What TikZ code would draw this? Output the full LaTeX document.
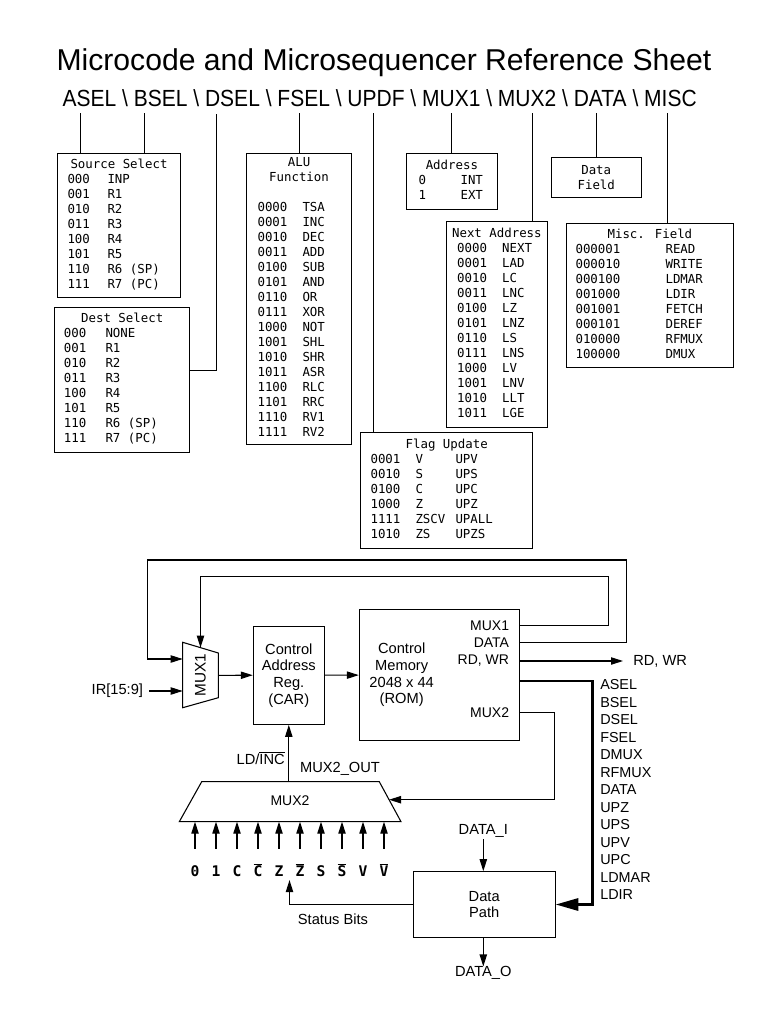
\documentclass[tikz,border=0pt]{standalone}
\usepackage{fontspec}
\setmainfont{Liberation Sans}
\newfontfamily\monofont{DejaVu Sans Mono}
\newfontfamily\hdrfont[FakeStretch=0.9]{Liberation Sans}
\usetikzlibrary{arrows.meta,calc,positioning}
\newdimen\upx \upx=0.75pt
\newcommand{\tabhead}[2]{\multicolumn{#1}{@{}c@{}}{\makebox[0pt]{#2}}}
\newcommand{\ovl}[1]{$\overline{\hbox{#1}}$}

\begin{document}
\begin{tikzpicture}[
  x=0.75pt, y=-0.75pt,
  every node/.style={font=\fontsize{11}{12.5}\selectfont},
  sz/.style 2 args={minimum width=#1*0.75pt, minimum height=#2*0.75pt},
  tbl/.style={draw, line width=0.8pt, anchor=north west, inner sep=0pt, font=\monofont\fontsize{9.3}{11.25}\selectfont},
  blk/.style={draw, line width=0.8pt, inner sep=0pt, align=center},
  lbl/.style={inner sep=0pt},
  wire/.style={line width=0.8pt},
  arrow/.style={-{Triangle[length=9pt,width=5.5pt]}, line width=0.8pt},
  bus/.style={-{Triangle[length=17pt,width=9pt]}, line width=2.2pt},
  bit/.style={inner sep=0pt, anchor=base, text height=10.5pt, text depth=0pt, font=\monofont\bfseries\fontsize{11}{12}\selectfont}
]
\useasboundingbox (0,0) rectangle (768,1024);

% title and field header
\node[lbl, anchor=base, font=\fontsize{22.6}{26}\selectfont] (title) at (384,70) {Microcode and Microsequencer Reference Sheet};
\node[lbl, anchor=base, font=\hdrfont\fontsize{17.5}{20}\selectfont] (hdr) at (379.7,106.7)
  {ASEL \textbackslash{} BSEL \textbackslash{} DSEL \textbackslash{} FSEL \textbackslash{} UPDF \textbackslash{} MUX1 \textbackslash{} MUX2 \textbackslash{} DATA \textbackslash{} MISC};

% field tables
\node[tbl, sz={123}{144}] (src) at (57,152.7) {\begin{tabular}{@{}p{40\upx}@{}p{63\upx}@{}}
\tabhead{2}{Source Select}\\
000 & INP\\ 001 & R1\\ 010 & R2\\ 011 & R3\\ 100 & R4\\ 101 & R5\\ 110 & R6 (SP)\\ 111 & R7 (PC)
\end{tabular}};
\node[tbl, sz={135.3}{145}] (dst) at (54,306.7) {\begin{tabular}{@{}p{41.7\upx}@{}p{75\upx}@{}}
\tabhead{2}{Dest Select}\\
000 & NONE\\ 001 & R1\\ 010 & R2\\ 011 & R3\\ 100 & R4\\ 101 & R5\\ 110 & R6 (SP)\\ 111 & R7 (PC)
\end{tabular}};
\node[tbl, sz={105}{291}] (alu) at (246,152.7) {\begin{tabular}{@{}p{45\upx}@{}p{38\upx}@{}}
\tabhead{2}{ALU}\\ \tabhead{2}{Function}\\ & \\
0000 & TSA\\ 0001 & INC\\ 0010 & DEC\\ 0011 & ADD\\ 0100 & SUB\\ 0101 & AND\\ 0110 & OR\\ 0111 & XOR\\
1000 & NOT\\ 1001 & SHL\\ 1010 & SHR\\ 1011 & ASR\\ 1100 & RLC\\ 1101 & RRC\\ 1110 & RV1\\ 1111 & RV2
\end{tabular}};
\node[tbl, sz={90.7}{56}] (adr) at (406,153.3) {\begin{tabular}{@{}p{42\upx}@{}p{24.7\upx}@{}}
\tabhead{2}{Address}\\ 0 & INT\\ 1 & EXT
\end{tabular}};
\node[tbl, sz={100.7}{205.7}] (nxt) at (446,221) {\begin{tabular}{@{}p{45\upx}@{}p{34.3\upx}@{}}
\tabhead{2}{Next Address}\\
0000 & NEXT\\ 0001 & LAD\\ 0010 & LC\\ 0011 & LNC\\ 0100 & LZ\\ 0101 & LNZ\\
0110 & LS\\ 0111 & LNS\\ 1000 & LV\\ 1001 & LNV\\ 1010 & LLT\\ 1011 & LGE
\end{tabular}};
\node[tbl, sz={90}{39.4}, anchor=north west, align=center] (dfld) at (550.7,157.3) {Data\\Field};
\node[tbl, sz={166.7}{144}] (misc) at (566,222.7) {\begin{tabular}{@{}p{90\upx}@{}p{58.7\upx}@{}}
\tabhead{2}{Misc. Field}\\
000001 & READ\\ 000010 & WRITE\\ 000100 & LDMAR\\ 001000 & LDIR\\
001001 & FETCH\\ 000101 & DEREF\\ 010000 & RFMUX\\ 100000 & DMUX
\end{tabular}};
\node[tbl, sz={172.3}{116.6}] (flg) at (360,431.7) {\begin{tabular}{@{}p{45\upx}@{}p{40\upx}@{}p{67.3\upx}@{}}
\tabhead{3}{Flag Update}\\
0001 & V & UPV\\ 0010 & S & UPS\\ 0100 & C & UPC\\ 1000 & Z & UPZ\\ 1111 & ZSCV & UPALL\\ 1010 & ZS & UPZS
\end{tabular}};

% header to tables
\draw[wire] ($(src.north west)+(23.5,0)$) -- ++(0,-39.7);
\draw[wire] ($(src.north west)+(87.5,0)$) -- ++(0,-39.7);
\draw[wire] ([yshift=6.9pt]dst.east) -| ++(26,-257);
\draw[wire] (alu.north) -- ++(0,-39.7);
\draw[wire] ($(flg.north west)+(13.5,0)$) -- ++(0,-318.7);
\draw[wire] (adr.north) -- ++(0,-40.3);
\draw[wire] ($(nxt.north west)+(86.4,0)$) -- ++(0,-108);
\draw[wire] (dfld.north) -- ++(0,-44.3);
\draw[wire] ($(misc.north west)+(101.7,0)$) -- ++(0,-109.7);

% microsequencer
\node[blk, sz={71}{98.3}] (car) at (288.8,675.2) {Control\\Address\\Reg.\\(CAR)};
\node[blk, sz={159.7}{131.4}] (cm) at (439.2,675) {};
\node[lbl, align=center] (cmTxt) at (401.7,675) {Control\\Memory\\2048 x 44\\(ROM)};
\node[lbl, anchor=east, font=\fontsize{10.5}{12}\selectfont] (cmMuxA) at (509.3,625.7) {MUX1};
\node[lbl, anchor=east, font=\fontsize{10.5}{12}\selectfont] (cmData) at (509.3,642.3) {DATA};
\node[lbl, anchor=east, font=\fontsize{10.5}{12}\selectfont] (cmRdwr) at (509.3,661) {RD, WR};
\node[lbl, anchor=east, font=\fontsize{10.5}{12}\selectfont] (cmMuxB) at (509.3,712.3) {MUX2};
\node[blk, sz={141.7}{65.6}, font=\fontsize{11}{12}\selectfont] (dp) at (484.2,904.5) {Data\\Path};

\coordinate (m1tl) at (182.7,642.3);
\coordinate (m1tr) at (218.3,653);
\coordinate (m1br) at (218.3,697.7);
\coordinate (m1bl) at (182.7,707.7);
\draw[wire] (m1tl) -- (m1tr) -- (m1br) -- (m1bl) -- cycle;
\node[lbl, rotate=90, font=\fontsize{11.5}{12}\selectfont] (mux1) at (200.5,675) {MUX1};
\coordinate (m1top) at ($(m1tl)!0.5!(m1tr)$);
\coordinate (m1out) at ($(m1tr)!0.5!(m1br)$);
\coordinate (m1inA) at (182.7,659);

\coordinate (m2tl) at (201.7,781.7);
\coordinate (m2tr) at (379.3,781.7);
\coordinate (m2br) at (401,821.7);
\coordinate (m2bl) at (179.3,821.7);
\draw[wire] (m2tl) -- (m2tr) -- (m2br) -- (m2bl) -- cycle;
\node[lbl, font=\fontsize{10.5}{12}\selectfont] (mux2) at (290,801) {MUX2};
\coordinate (m2in) at ($(m2tr)!0.45!(m2br)$);

\node[lbl, anchor=east] (irl) at (143.3,691) {IR[15:9]};
\node[lbl, anchor=west] (rdwr) at (633,661) {RD, WR};
\node[lbl, anchor=east] (ldinc) at (285,758.3) {LD/\ovl{INC}};
\node[lbl] (m2out) at (340,769.3) {MUX2\_OUT};
\node[lbl] (dIn) at (483.3,830.7) {DATA\_I};
\node[lbl] (dOut) at (483.3,973.3) {DATA\_O};
\node[lbl] (sts) at (333,919) {Status Bits};
\foreach \s [count=\i] in {ASEL,BSEL,DSEL,FSEL,DMUX,RFMUX,DATA,UPZ,UPS,UPV,UPC,LDMAR,LDIR}
  \node[lbl, anchor=west, font=\fontsize{10.8}{12}\selectfont] (bus\i) at (600,667.5+17.5*\i) {\s};

\foreach \b [count=\i from 0] in {0,1,C,\ovl{C},Z,\ovl{Z},S,\ovl{S},V,\ovl{V}} {
  \node[bit] (in\i) at (195+21*\i,876.8) {\b};
  \draw[arrow] (in\i.north) ++(0,-14) -- (in\i.north |- m2bl);
}
\coordinate (stsTip) at ($(in4.south)!0.5!(in5.south)+(0,3)$);

% connections
\draw[arrow] (cm.east |- cmData) -| ++(106.7,-82.3) -| ++(-478.7,99) -- (m1inA);
\draw[arrow] (cm.east |- cmMuxA) -| ++(89.3,-49) -| (m1top);
\draw[arrow, shorten <=4.5pt] (irl.east) -- (irl.east -| m1tl);
\draw[arrow] (m1out) -- (car.west);
\draw[arrow] (car) -- (cm);
\draw[arrow, shorten >=7.5pt] (cm.east |- cmRdwr) -- (rdwr.west);
\draw[bus] ([yshift=-4.5pt]cm.east) -- ++(72.7,0) |- (dp.east);
\draw[arrow] (cm.east |- cmMuxB) -- ++(35.3,0) |- (m2in);
\draw[arrow] (car.south |- m2tl) -- (car.south);
\draw[arrow] (dp.west) -| (stsTip);
\draw[arrow, shorten <=1.5pt] (dIn.south) -- (dIn.south |- dp.north);
\draw[arrow] (dp.south -| dOut) -- (dOut.north);
\end{tikzpicture}
\end{document}
